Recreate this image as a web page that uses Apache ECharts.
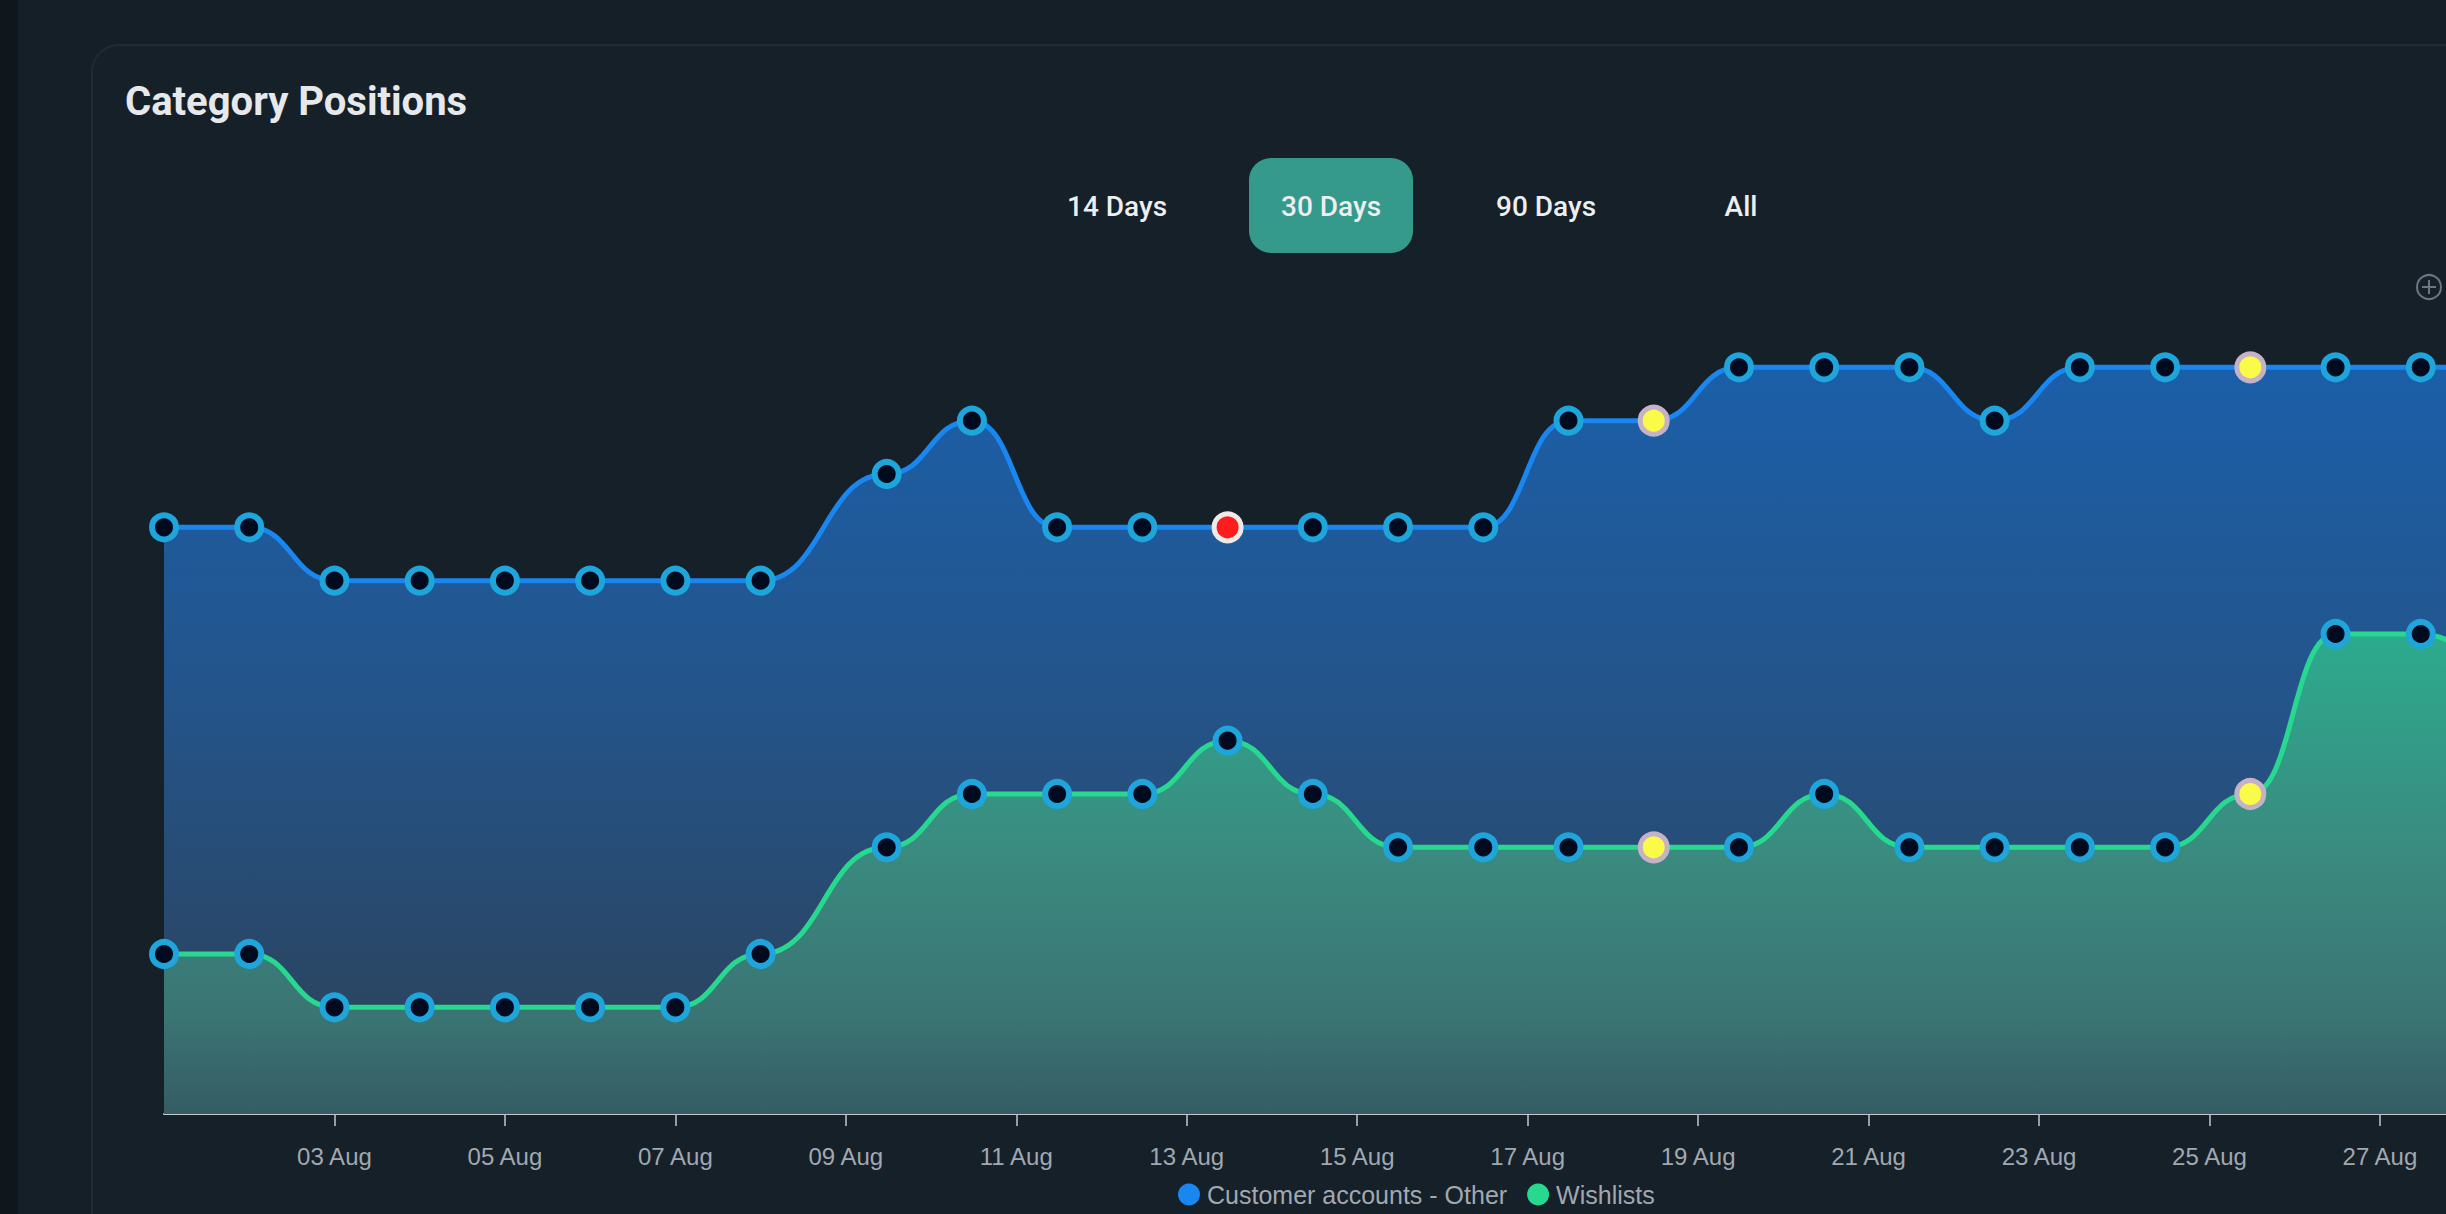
<!DOCTYPE html>
<html><head><meta charset="utf-8">
<script src="https://cdn.jsdelivr.net/npm/echarts@6/dist/echarts.min.js"></script>
<style>
html,body{margin:0;padding:0;width:2446px;height:1214px;overflow:hidden;background:#151f28;}
#side{position:absolute;left:0;top:0;width:18px;height:1214px;background:#0f161c;}
#card{position:absolute;left:91px;top:44px;width:2800px;height:1400px;border:2px solid #1f2b37;border-radius:28px;background:#152029;box-sizing:border-box;}
#chart{position:absolute;left:0;top:0;width:2446px;height:1214px;}
</style></head><body>
<div id="side"></div><div id="card"></div><div id="chart"></div>
<script>
// ---- data ----
const dates = [
  '2024-08-01 00:00','2024-08-02 00:00','2024-08-03 00:00','2024-08-04 00:00',
  '2024-08-05 00:00','2024-08-06 00:00','2024-08-07 00:00','2024-08-08 00:00',
  '2024-08-09 11:30','2024-08-10 11:30','2024-08-11 11:30','2024-08-12 11:30',
  '2024-08-13 11:30','2024-08-14 11:30','2024-08-15 11:30','2024-08-16 11:30',
  '2024-08-17 11:30','2024-08-18 11:30','2024-08-19 11:30','2024-08-20 11:30',
  '2024-08-21 11:30','2024-08-22 11:30','2024-08-23 11:30','2024-08-24 11:30',
  '2024-08-25 11:30','2024-08-26 11:30','2024-08-27 11:30','2024-08-28 11:30'
];
const customerAccountsOther = [4,4,5,5,5,5,5,5,3,2,4,4,4,4,4,4,2,2,1,1,1,2,1,1,1,1,1,1];
const wishlists = [12,12,13,13,13,13,13,12,10,9,9,9,8,9,10,10,10,10,10,9,10,10,10,10,9,6,6,7];
const tickDates = ['2024-08-03','2024-08-05','2024-08-07','2024-08-09','2024-08-11','2024-08-13',
  '2024-08-15','2024-08-17','2024-08-19','2024-08-21','2024-08-23','2024-08-25','2024-08-27'];
const seriesNames = ['Customer accounts - Other','Wishlists'];
const rangeButtons = ['14 Days','30 Days','90 Days','All'];
const activeButton = '30 Days';
const redPointIdx = { 'Customer accounts - Other': [12], 'Wishlists': [] };
const yellowPointIdx = { 'Customer accounts - Other': [17, 24], 'Wishlists': [17, 24] };
const monthNames = ['Jan','Feb','Mar','Apr','May','Jun','Jul','Aug','Sep','Oct','Nov','Dec'];

// ---- helpers ----
const DAY = 86400000;
function toTs(s){
  const [d,t] = s.split(' ');
  const [y,m,dd] = d.split('-').map(Number);
  const [hh,mm] = (t||'00:00').split(':').map(Number);
  return Date.UTC(y, m-1, dd, hh, mm);
}
const ts = dates.map(toTs);
const xMin = toTs('2024-08-01');
const xMax = xMin + 26.775 * DAY;
const fmt = v => { const d = new Date(v); return String(d.getUTCDate()).padStart(2,'0') + ' ' + monthNames[d.getUTCMonth()]; };

const lineColors = ['#1a86f0', '#27d98f'];
const normalItem = { color: '#010b1f', borderColor: '#1ea6dc', borderWidth: 6 };
function buildData(name, vals){
  return vals.map((v,i) => {
    const o = { value: [ts[i], v] };
    if (redPointIdx[name].includes(i)) {
      o.symbolSize = 27; o.itemStyle = { color: '#ff1c1c', borderColor: '#efeaea', borderWidth: 5 };
    } else if (yellowPointIdx[name].includes(i)) {
      o.symbolSize = 27; o.itemStyle = { color: '#fafa48', borderColor: '#c6b2c6', borderWidth: 5 };
    }
    return o;
  });
}
const blueGrad = new echarts.graphic.LinearGradient(0, 367, 0, 1114, [
  {offset: 0, color: '#1b5fa9'}, {offset: 0.45, color: '#24548a'},
  {offset: 0.85, color: '#2a4663'}, {offset: 1, color: '#2b425a'}], true);
const greenGrad = new echarts.graphic.LinearGradient(0, 634, 0, 1114, [
  {offset: 0, color: '#2cab8e'}, {offset: 0.45, color: '#3a8b80'},
  {offset: 0.8, color: '#3a7473'}, {offset: 1, color: '#355c64'}], true);

const btnCenters = [1117, 1331, 1546, 1741];
const graphics = [];
rangeButtons.forEach((b,i) => {
  if (b === activeButton) {
    graphics.push({ type:'rect', shape:{x: btnCenters[i]-82, y:158, width:164, height:95, r:22}, style:{fill:'#35998c'} });
  }
  graphics.push({ type:'text', x: btnCenters[i], y: 206, style:{ text: b, fill:'#eceef0', font:'500 28px Roboto', textAlign:'center', textVerticalAlign:'middle' } });
});
graphics.push({ type:'text', x: 125, y: 101, style:{ text:'Category Positions', fill:'#e6e8eb', font:'bold 40px Roboto', textAlign:'left', textVerticalAlign:'middle' } });
graphics.push({ type:'circle', shape:{cx:2429, cy:287, r:12}, style:{fill:'none', stroke:'#6b7682', lineWidth:2} });
graphics.push({ type:'line', shape:{x1:2422, y1:287, x2:2436, y2:287}, style:{stroke:'#6b7682', lineWidth:2} });
graphics.push({ type:'line', shape:{x1:2429, y1:280, x2:2429, y2:294}, style:{stroke:'#6b7682', lineWidth:2} });

const chart = echarts.init(document.getElementById('chart'), null, { renderer: 'svg' });
chart.setOption({
  animation: false,
  backgroundColor: 'transparent',
  grid: { left: 164, right: 0, top: 314, bottom: 100, containLabel: false },
  xAxis: {
    type: 'value', min: xMin, max: xMax, interval: 2*DAY, position: 'bottom',
    axisLine: { show: true, onZero: false, lineStyle: { color: '#c3c8cd', width: 2 } },
    axisTick: { show: true, length: 12, lineStyle: { color: '#c3c8cd', width: 1.5 }, customValues: tickDates.map(toTs) },
    axisLabel: { color: '#a1a8b0', fontSize: 24, fontFamily: 'Liberation Sans', margin: 30, formatter: fmt,
      customValues: tickDates.map(toTs) },
    splitLine: { show: false }
  },
  yAxis: { type: 'value', inverse: true, min: 0, max: 15, show: false, splitLine: { show: false } },
  legend: {
    left: 1173, top: 1177, itemWidth: 22, itemHeight: 22, itemGap: 20, icon: 'circle',
    textStyle: { color: '#a1a8b0', fontSize: 25, fontFamily: 'Liberation Sans', padding: [0,0,0,2] },
    data: seriesNames.map((n,i) => ({ name: n, itemStyle: { color: lineColors[i], borderWidth: 0 } }))
  },
  graphic: graphics,
  series: [customerAccountsOther, wishlists].map((vals, i) => ({
    name: seriesNames[i], type: 'line', z: 2 + i,
    data: buildData(seriesNames[i], vals),
    smooth: 0.5, smoothMonotone: 'x',
    symbol: 'circle', symbolSize: 24, showAllSymbol: true, clip: true,
    lineStyle: { color: lineColors[i], width: 5 },
    itemStyle: normalItem,
    areaStyle: { origin: 'end', color: i === 0 ? blueGrad : greenGrad, opacity: 1 },
    emphasis: { disabled: true }
  }))
});
</script>
</body></html>
